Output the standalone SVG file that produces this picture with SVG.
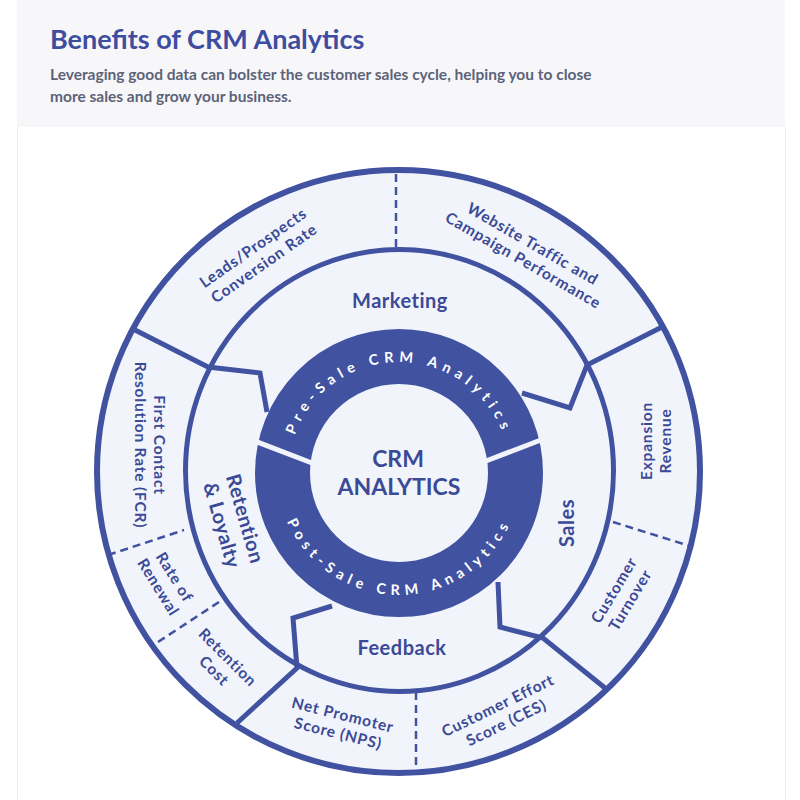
<svg xmlns="http://www.w3.org/2000/svg" width="800" height="800" viewBox="0 0 800 800">
<style>
.title{font-family:Lato,"Liberation Sans",sans-serif;font-weight:700;font-size:27px;fill:#3e4d9f}
.sub{font-family:Lato,"Liberation Sans",sans-serif;font-weight:700;font-size:15.5px;fill:#5c6379}
.lbl{font-family:Lato,"Liberation Sans",sans-serif;font-weight:700;font-size:15.5px;letter-spacing:0.8px;fill:#3b4a96;text-anchor:middle}
.sec{font-family:Lato,"Liberation Sans",sans-serif;font-weight:700;font-size:20px;letter-spacing:0.5px;fill:#3b4a96;text-anchor:middle}
.ctr{font-family:Lato,"Liberation Sans",sans-serif;font-weight:700;font-size:23px;fill:#3b4a96;text-anchor:middle}
.arc{font-family:Lato,"Liberation Sans",sans-serif;font-weight:700;font-size:14.5px;letter-spacing:5.4px;fill:#ffffff}
.solid{fill:none;stroke:#4152a1;stroke-width:5;stroke-linejoin:miter}
.dash{fill:none;stroke:#4152a1;stroke-width:2.5;stroke-dasharray:8 5}
</style>
<defs>
<path id="topArc" d="M 288 473 A 111 111 0 0 1 510 473"/>
<path id="botArc" d="M 277 473 A 122 122 0 0 0 521 473"/>
</defs>
<rect x="0" y="0" width="800" height="800" fill="#ffffff"/>
<rect x="17" y="0" width="768" height="127" fill="#f7f7f9"/>
<line x1="17.5" y1="127" x2="17.5" y2="800" stroke="#ececef" stroke-width="1"/>
<line x1="785.5" y1="127" x2="785.5" y2="800" stroke="#ececef" stroke-width="1"/>
<g id="header">
<text class="title" x="50" y="49">Benefits of CRM Analytics</text>
<text class="sub" x="50" y="80">Leveraging good data can bolster the customer sales cycle, helping you to close</text>
<text class="sub" x="50" y="102">more sales and grow your business.</text>
</g>
<g id="wheel">
<circle cx="398.5" cy="471.5" r="301.5" fill="#f1f4fb" stroke="#4152a1" stroke-width="6"/>
<ellipse cx="399.5" cy="470.5" rx="214" ry="221" fill="none" stroke="#4152a1" stroke-width="5"/>
</g>
<g id="connectors">
<polyline class="solid" points="135,330 208,367 260,373 267,412"/>
<polyline class="solid" points="662,327 587,365 570,408 522,393"/>
<polyline class="solid" points="605,688 543,638 500,627 498,582"/>
<polyline class="solid" points="237,723 297,668 293,618 332,606"/>
<line class="dash" x1="396" y1="174" x2="396" y2="249"/>
<line class="dash" x1="613" y1="522" x2="690" y2="546"/>
<line class="dash" x1="416" y1="692" x2="416" y2="770"/>
<line class="dash" x1="108" y1="555" x2="184" y2="530"/>
<line class="dash" x1="158" y1="642" x2="219" y2="602"/>
</g>
<g id="core">
<circle cx="399" cy="473" r="116.5" fill="none" stroke="#4152a1" stroke-width="55"/>
<line x1="252" y1="440" x2="312" y2="463" stroke="#f1f4fb" stroke-width="5"/>
<line x1="546" y1="438" x2="486" y2="461" stroke="#f1f4fb" stroke-width="5"/>
<text class="arc"><textPath href="#topArc" startOffset="50%" text-anchor="middle">Pre-Sale CRM Analytics</textPath></text>
<text class="arc"><textPath href="#botArc" startOffset="50%" text-anchor="middle">Post-Sale CRM Analytics</textPath></text>
<text class="ctr" x="398" y="467">CRM</text>
<text class="ctr" x="399" y="495">ANALYTICS</text>
</g>
<g id="marketing"><text class="sec" x="400" y="308">Marketing</text></g>
<g id="sales" transform="translate(567,523) rotate(-90)"><text class="sec" x="0" y="7">Sales</text></g>
<g id="feedback"><text class="sec" x="402" y="655">Feedback</text></g>
<g id="retention-loyalty" transform="translate(233.5,522) rotate(74)"><text class="sec" x="0" y="-5">Retention</text><text class="sec" x="0" y="19">&amp; Loyalty</text></g>
<g id="leads" transform="translate(258.5,255.5) rotate(-35)"><text class="lbl" x="0" y="-4">Leads/Prospects</text><text class="lbl" x="0" y="15">Conversion Rate</text></g>
<g id="website" transform="translate(528,252) rotate(30)"><text class="lbl" x="0" y="-4">Website Traffic and</text><text class="lbl" x="0" y="15">Campaign Performance</text></g>
<g id="expansion" transform="translate(656,441) rotate(-90)"><text class="lbl" x="0" y="-4">Expansion</text><text class="lbl" x="0" y="15">Revenue</text></g>
<g id="turnover" transform="translate(622,595) rotate(-59)"><text class="lbl" x="0" y="-4">Customer</text><text class="lbl" x="0" y="15">Turnover</text></g>
<g id="ces" transform="translate(502,714) rotate(-26)"><text class="lbl" x="0" y="-4">Customer Effort</text><text class="lbl" x="0" y="15">Score (CES)</text></g>
<g id="nps" transform="translate(340.5,724) rotate(14)"><text class="lbl" x="0" y="-4">Net Promoter</text><text class="lbl" x="0" y="15">Score (NPS)</text></g>
<g id="retention-cost" transform="translate(221,664) rotate(45)"><text class="lbl" x="0" y="-4">Retention</text><text class="lbl" x="0" y="15">Cost</text></g>
<g id="renewal" transform="translate(166.5,582) rotate(58)"><text class="lbl" x="0" y="-4">Rate of</text><text class="lbl" x="0" y="15">Renewal</text></g>
<g id="fcr" transform="translate(150,445) rotate(90)"><text class="lbl" x="0" y="-4">First Contact</text><text class="lbl" x="0" y="15">Resolution Rate (FCR)</text></g>
</svg>
